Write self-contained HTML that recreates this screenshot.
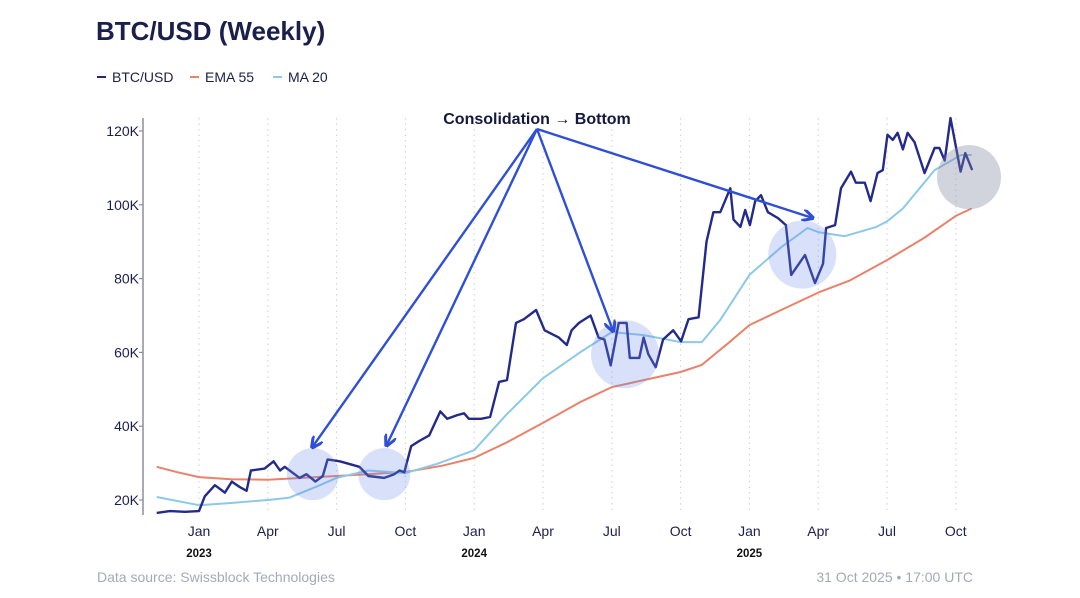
<!DOCTYPE html>
<html><head><meta charset="utf-8"><style>
html,body{margin:0;padding:0;background:#fff;width:1080px;height:598px;overflow:hidden;font-family:"Liberation Sans",sans-serif}
svg{position:absolute;left:0;top:0}
</style></head><body>
<svg id="chart" width="1080" height="598" viewBox="0 0 1080 598" xmlns="http://www.w3.org/2000/svg">
<text x="96" y="40" font-size="26" font-weight="bold" fill="#1b1f4b" font-family="Liberation Sans, sans-serif">BTC/USD (Weekly)</text>
<g font-size="14" fill="#1b1f4b" font-family="Liberation Sans, sans-serif">
<g><line x1="97" y1="77" x2="106" y2="77" stroke="#232a7a" stroke-width="2"/><text x="112" y="82">BTC/USD</text></g>
<g><line x1="190" y1="77" x2="199" y2="77" stroke="#e8826a" stroke-width="2"/><text x="205" y="82">EMA 55</text></g>
<g><line x1="273" y1="77" x2="282" y2="77" stroke="#8cc9e8" stroke-width="2"/><text x="288" y="82">MA 20</text></g>
</g>
<g id="plot"></g>
<text x="97" y="582" font-size="14" fill="#a6a8b8">Data source: Swissblock Technologies</text>
<text x="973" y="582" font-size="14" fill="#a6a8b8" text-anchor="end">31 Oct 2025 • 17:00 UTC</text>
</svg>
<script>
// weeks since 2 Jan 2023
const priceWeeks=[-8,-5.5,-2.6,0,1.1,3,4.9,6.2,7.7,9,9.8,12.4,14.1,15.3,16.2,19,20.3,22,23.4,24.3,26.6,30.3,32,35,36.9,37.9,38.8,40.1,41.6,43.5,45.6,46.9,48.8,50.1,51,53.3,55,56.7,58.2,59.9,61.4,63.7,65.3,68,69.5,70.4,71.8,74,75.5,76.6,77.8,79.3,80.8,81.4,83.2,84,84.9,86.3,87.7,89.6,91.1,92.5,94.4,95.9,97.2,98.5,100.4,101,102.3,103.2,104.1,105.1,106.2,107.5,109.4,110.9,111.9,114.5,116.4,117.9,118.5,120.2,121.3,123.2,124.1,125.8,126.9,128.2,129.2,130.1,131.1,132,133,133.9,135.2,137.1,139,139.9,140.9,142,143.9,144.8,146.1];
const priceValues=[16.5,17,16.8,17,21,24,22,25,23.5,22.5,28,28.5,30.5,28,29,26,27,25,26.5,31,30.5,29,26.5,26,27,28,27.5,34.6,36,37.5,44,42,43,43.5,42,42,42.5,52,52.5,68,69,71.5,66,64,62,66,68,70,64,63.5,56.5,68,68,58.5,58.5,64,59.5,56,63.5,66,63,69,69.5,90,98,98,104.5,96,94,98.6,94.5,101,102.6,98,96.4,94.5,81,86.4,78.8,84,93.7,94.5,104.5,109,106,106,101,108.6,109.4,119,117.6,119.5,115,119.5,117,108.6,115.4,115.4,112,123.5,109,114,109.4];
const emaWeeks=[-8,-4,0,6,13,26,39,46,52,58,65,72,78,85,91,95,100,104,110,117,123,130,137,143,146];
const emaValues=[29,27.5,26.2,25.6,25.5,26.5,27.6,29.3,31.4,35.5,40.9,46.5,50.6,52.8,54.7,56.6,62.5,67.4,71.5,76.2,79.5,85,91,97,99];
const maWeeks=[-8,0,6,13,17,22,26,32,39,45,52,58,65,72,78,84,91,95,98.5,104,110,115,117,122,128,130,133,139,144,146];
const maValues=[20.8,18.6,19.2,20,20.6,23.5,26,28,27.3,29.8,33.5,43,53,60,65.5,64.7,62.8,62.8,68.8,81,88.5,93.7,92.6,91.5,94,95.5,99,109.4,113.5,113.5];
const yTicks=[20,40,60,80,100,120];
const yTickLabels=["20K","40K","60K","80K","100K","120K"];
const xTickWeeks=[0,13,26,39,52,65,78,91,104,117,130,143];
const xTickLabels=["Jan","Apr","Jul","Oct","Jan","Apr","Jul","Oct","Jan","Apr","Jul","Oct"];
const yearWeeks=[0,52,104];
const yearLabels=["2023","2024","2025"];
const circleWeeks=[21.5,35,80.5,114,145.5];
const circleValues=[27,27,59.5,86.5,107.5];
const circleRadius=[26,26,34,34,32];
const arrowTargetWeeks=[21.5,35.5,78.2,115.8];
const arrowTargetValues=[34.5,35,66,96.5];

const NS="http://www.w3.org/2000/svg";
const plot=document.getElementById('plot');
function x(w){return 199+w*(68.8/13);}
function y(v){return 500-(v-20)*3.69;}
function mk(t,a,parent){const e=document.createElementNS(NS,t);for(const k in a)e.setAttribute(k,a[k]);(parent||plot).appendChild(e);return e;}

xTickWeeks.forEach((w,i)=>{
  const g=mk('line',{x1:x(w),y1:118,x2:x(w),y2:514,stroke:'#d4d6de','stroke-width':1.2,'stroke-dasharray':'1.5 4'});
  
  
  const t=mk('text',{x:x(w),y:536,'font-size':14,fill:'#1b1f4b','text-anchor':'middle'});
  
  
  t.textContent=xTickLabels[i];
});
yearWeeks.forEach((w,i)=>{
  const t=mk('text',{x:x(w),y:557,'font-size':11.5,'font-weight':'bold',fill:'#111','text-anchor':'middle'});
  
  
  t.textContent=yearLabels[i];
});
const ax=mk('line',{x1:143,y1:118,x2:143,y2:515,stroke:'#8b8e9c','stroke-width':1.5});


yTicks.forEach((v,i)=>{
  const tk=mk('line',{x1:139,y1:y(v),x2:143,y2:y(v),stroke:'#8b8e9c','stroke-width':1.2});
  
  
  const t=mk('text',{x:139,y:y(v)+5,'font-size':14,fill:'#1b1f4b','text-anchor':'end'});
  
  
  t.textContent=yTickLabels[i];
});
function pathOf(ws,vs){return ws.map((w,i)=>(i?'L':'M')+x(w).toFixed(1)+' '+y(vs[i]).toFixed(1)).join(' ');}
const ema=mk('path',{d:pathOf(emaWeeks,emaValues),fill:'none',stroke:'#e8826a','stroke-width':2,'stroke-linejoin':'round'});


const ma=mk('path',{d:pathOf(maWeeks,maValues),fill:'none',stroke:'#8cc9e8','stroke-width':2,'stroke-linejoin':'round'});


const pr=mk('path',{d:pathOf(priceWeeks,priceValues),fill:'none',stroke:'#232a8a','stroke-width':2.4,'stroke-linejoin':'round'});


circleWeeks.forEach((w,i)=>{
  const last=i===circleWeeks.length-1;
  const c=mk('circle',{cx:x(w),cy:y(circleValues[i]),r:circleRadius[i],fill:last?'rgba(130,136,160,0.36)':'rgba(110,140,235,0.27)'});
  
  
});
const defs=mk('defs',{});
const m=mk('marker',{id:'ah',viewBox:'0 0 10 10',refX:8,refY:5,markerWidth:5,markerHeight:5,orient:'auto'},defs);
mk('path',{d:'M0 0 L10 5 L0 10',fill:'none',stroke:'#2e4fd6','stroke-width':2.5},m);
arrowTargetWeeks.forEach((w,i)=>{
  const a=mk('line',{x1:537,y1:129,x2:x(w),y2:y(arrowTargetValues[i]),stroke:'#2e4fd6','stroke-width':2.4,'marker-end':'url(#ah)'});
  
  
});
const lab=mk('text',{x:537,y:124,'font-size':16,'font-weight':'bold',fill:'#14183f','text-anchor':'middle'});


lab.textContent='Consolidation → Bottom';
</script>
</body></html>
